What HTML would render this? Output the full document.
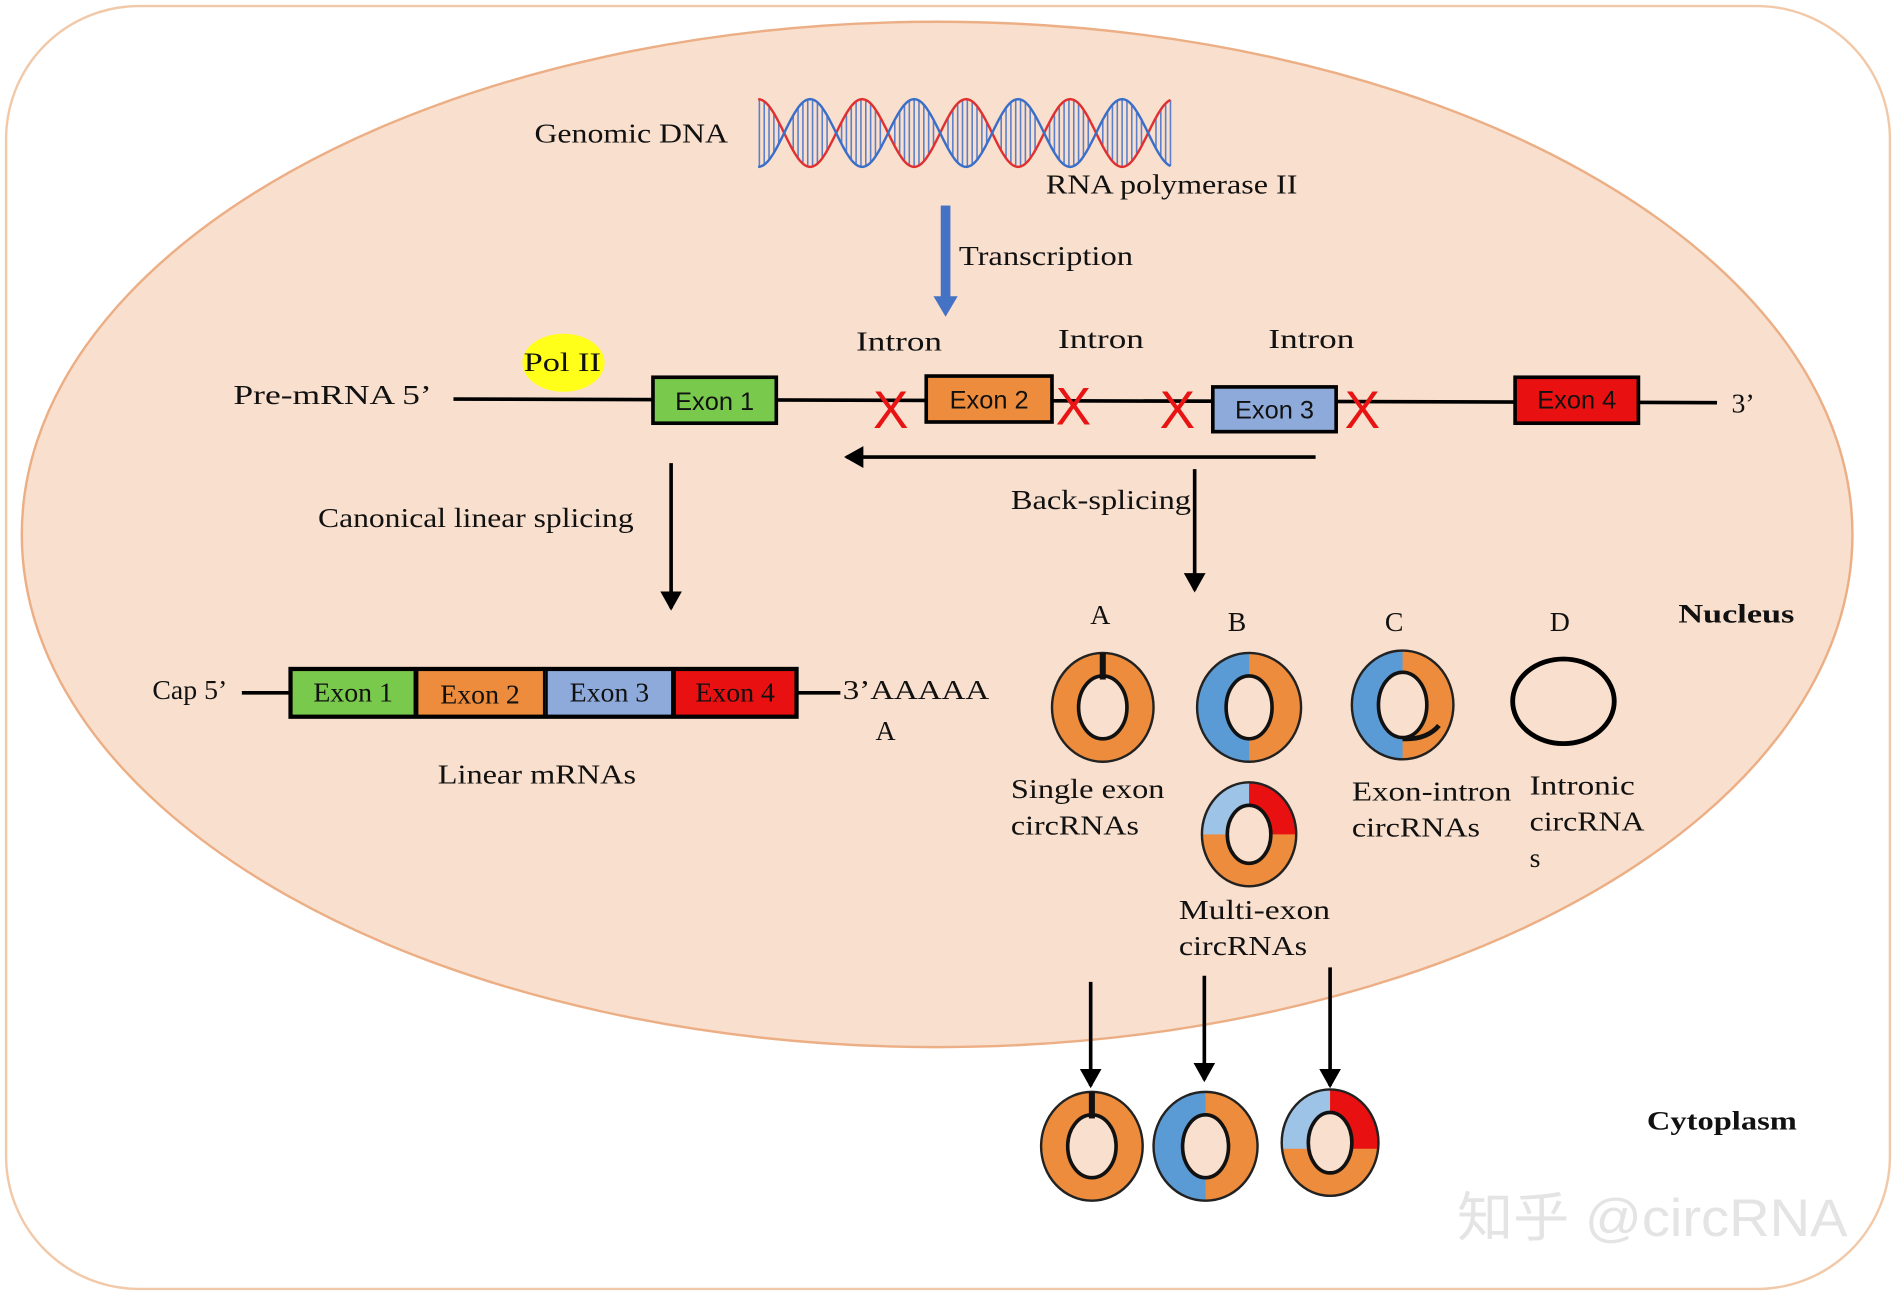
<!DOCTYPE html>
<html><head><meta charset="utf-8"><style>html,body{margin:0;padding:0;background:#fff}svg{display:block}text{font-family:"Liberation Serif",serif;fill:#111}.b{font-family:"Liberation Sans",sans-serif}</style></head>
<body>
<svg id="s" width="1896" height="1295" viewBox="0 0 1568 1071" xmlns="http://www.w3.org/2000/svg">
<defs>
<marker id="ah" markerWidth="16" markerHeight="18" refX="14" refY="9" orient="auto" markerUnits="userSpaceOnUse"><path d="M0,0 L16,9 L0,18 z" fill="#000"/></marker>
</defs>
<rect x="5" y="5" width="1558" height="1061" rx="110" fill="#fff" stroke="#f2c9a8" stroke-width="2"/>
<ellipse cx="775" cy="442" rx="757" ry="424" fill="#f9dfcd" stroke="#ecae84" stroke-width="2"/>
<g id="dna"></g>
<g font-size="23" lengthAdjust="spacingAndGlyphs">
<text x="442" y="118" textLength="160" lengthAdjust="spacingAndGlyphs">Genomic DNA</text>
<text x="865" y="160" textLength="208" lengthAdjust="spacingAndGlyphs">RNA polymerase II</text>
<text x="793" y="219" textLength="144" lengthAdjust="spacingAndGlyphs">Transcription</text>
<text x="708" y="290" textLength="71" lengthAdjust="spacingAndGlyphs">Intron</text>
<text x="875" y="288" textLength="71" lengthAdjust="spacingAndGlyphs">Intron</text>
<text x="1049" y="288" textLength="71" lengthAdjust="spacingAndGlyphs">Intron</text>
<text x="193" y="334" textLength="164" lengthAdjust="spacingAndGlyphs">Pre-mRNA  5’</text>
<text x="1432" y="341">3’</text>
</g>
<rect x="778" y="170" width="8" height="80" fill="#4472c4"/>
<path d="M772,245 L792,245 L782,262 z" fill="#4472c4"/>
<line x1="375" y1="330" x2="1420" y2="333" stroke="#000" stroke-width="3"/>
<ellipse cx="466" cy="300" rx="34" ry="24" fill="#ffff1a"/>
<text x="433" y="307" font-size="22" textLength="64" lengthAdjust="spacingAndGlyphs">Pol II</text>
<rect x="540" y="312" width="102" height="38" fill="#79c94d" stroke="#000" stroke-width="3"/>
<text class="b" x="591" y="339" font-size="21" text-anchor="middle">Exon  1</text>
<rect x="766" y="311" width="104" height="38" fill="#ec8c3c" stroke="#000" stroke-width="3"/>
<text class="b" x="818" y="338" font-size="21" text-anchor="middle">Exon  2</text>
<rect x="1003" y="320" width="102" height="37" fill="#8eaadb" stroke="#000" stroke-width="3"/>
<text class="b" x="1054" y="346" font-size="21" text-anchor="middle">Exon  3</text>
<rect x="1253" y="312" width="102" height="38" fill="#e81010" stroke="#000" stroke-width="3"/>
<text class="b" x="1304" y="338" font-size="21" text-anchor="middle">Exon  4</text>
<g font-size="44">
<text x="722" y="354" style="fill:#e81414;font-family:'Liberation Sans',sans-serif">X</text>
<text x="873" y="351" style="fill:#e81414;font-family:'Liberation Sans',sans-serif">X</text>
<text x="959" y="354" style="fill:#e81414;font-family:'Liberation Sans',sans-serif">X</text>
<text x="1112" y="354" style="fill:#e81414;font-family:'Liberation Sans',sans-serif">X</text>
</g>
<line x1="1088" y1="378" x2="700" y2="378" stroke="#000" stroke-width="3" marker-end="url(#ah)"/>
<line x1="555" y1="383" x2="555" y2="503" stroke="#000" stroke-width="3" marker-end="url(#ah)"/>
<line x1="988" y1="388" x2="988" y2="488" stroke="#000" stroke-width="3" marker-end="url(#ah)"/>
<text x="263" y="436" font-size="23" textLength="261" lengthAdjust="spacingAndGlyphs">Canonical linear splicing</text>
<text x="836" y="421" font-size="23" textLength="149" lengthAdjust="spacingAndGlyphs">Back-splicing</text>
<text x="126" y="578" font-size="23">Cap  5’</text>
<line x1="200" y1="573" x2="240" y2="573" stroke="#000" stroke-width="3"/>
<line x1="658" y1="573" x2="695" y2="573" stroke="#000" stroke-width="3"/>
<rect x="240" y="553" width="419" height="40" fill="none" stroke="#000" stroke-width="3"/>
<rect x="241" y="554" width="102" height="38" fill="#79c94d" stroke="#000" stroke-width="2"/>
<rect x="345" y="554" width="105" height="38" fill="#ec8c3c" stroke="#000" stroke-width="2"/>
<rect x="452" y="554" width="104" height="38" fill="#8eaadb" stroke="#000" stroke-width="2"/>
<rect x="558" y="554" width="100" height="38" fill="#e81010" stroke="#000" stroke-width="2"/>
<g font-size="23" text-anchor="middle"><text x="292" y="580">Exon 1</text><text x="397" y="582">Exon 2</text><text x="504" y="580">Exon 3</text><text x="608" y="580">Exon 4</text></g>
<text x="697" y="578" font-size="23" textLength="121" lengthAdjust="spacingAndGlyphs">3’AAAAA</text>
<text x="724" y="612" font-size="23">A</text>
<text x="362" y="648" font-size="23" textLength="164" lengthAdjust="spacingAndGlyphs">Linear mRNAs</text>
<g font-size="23" text-anchor="middle"><text x="910" y="516">A</text><text x="1023" y="522">B</text><text x="1153" y="522">C</text><text x="1290" y="522">D</text></g>
<text x="1388" y="515" font-size="22" font-weight="bold" textLength="96" lengthAdjust="spacingAndGlyphs">Nucleus</text>
<text x="1362" y="934" font-size="22" font-weight="bold" textLength="124" lengthAdjust="spacingAndGlyphs">Cytoplasm</text>
<g id="rings"></g>
<ellipse cx="1293" cy="580" rx="42" ry="35" fill="none" stroke="#000" stroke-width="4"/>
<g font-size="23"><text x="836" y="660" textLength="127" lengthAdjust="spacingAndGlyphs">Single exon</text><text x="836" y="690" textLength="106" lengthAdjust="spacingAndGlyphs">circRNAs</text>
<text x="1118" y="662" textLength="132" lengthAdjust="spacingAndGlyphs">Exon-intron</text><text x="1118" y="692" textLength="106" lengthAdjust="spacingAndGlyphs">circRNAs</text>
<text x="1265" y="657" textLength="87" lengthAdjust="spacingAndGlyphs">Intronic</text><text x="1265" y="687" textLength="95" lengthAdjust="spacingAndGlyphs">circRNA</text><text x="1265" y="717">s</text>
<text x="975" y="760" textLength="125" lengthAdjust="spacingAndGlyphs">Multi-exon</text><text x="975" y="790" textLength="106" lengthAdjust="spacingAndGlyphs">circRNAs</text></g>
<line x1="902" y1="812" x2="902" y2="898" stroke="#000" stroke-width="3" marker-end="url(#ah)"/>
<line x1="996" y1="807" x2="996" y2="893" stroke="#000" stroke-width="3" marker-end="url(#ah)"/>
<line x1="1100" y1="800" x2="1100" y2="898" stroke="#000" stroke-width="3" marker-end="url(#ah)"/>
<text x="1205" y="1022" font-size="44" textLength="323" lengthAdjust="spacingAndGlyphs" style="fill:#e4e4e4;font-family:'Liberation Sans','Noto Sans CJK SC',sans-serif">知乎 @circRNA</text>
</svg>
<script>
var NS="http://www.w3.org/2000/svg",BG="#f9dfcd",OR="#ec8c3c",BL="#5b9bd5",LB="#9dc3e6",RD="#e81010";
function el(t,a,p){var e=document.createElementNS(NS,t);for(var k in a)e.setAttribute(k,a[k]);(p||document.getElementById('rings')).appendChild(e);return e;}
var cid=0;
function ring(cx,cy,rx,ry,irx,iry,parts){
 el('ellipse',{cx:cx,cy:cy,rx:rx,ry:ry,fill:OR});
 parts.forEach(function(p){cid++;var c=el('clipPath',{id:'c'+cid},document.querySelector('defs'));
  el('rect',{x:p[0],y:p[1],width:p[2],height:p[3]},c);
  el('ellipse',{cx:cx,cy:cy,rx:rx,ry:ry,fill:p[4],'clip-path':'url(#c'+cid+')'});});
 el('ellipse',{cx:cx,cy:cy,rx:rx,ry:ry,fill:'none',stroke:'#222','stroke-width':2});
 el('ellipse',{cx:cx,cy:cy,rx:irx,ry:iry,fill:BG,stroke:'#111','stroke-width':3});
}
ring(912,585,42,45,20,26,[]);el('line',{x1:912,y1:540,x2:912,y2:562,stroke:'#111','stroke-width':5});
ring(1033,585,43,45,19,26,[[980,530,53,110,BL]]);
ring(1160,583,42,45,20,27,[[1110,530,50,110,BL]]);
el('path',{d:'M1160,611 Q1180,612 1190,600',fill:'none',stroke:'#111','stroke-width':4});
ring(1033,690,39,43,18,24,[[990,640,43,50,LB],[1033,640,50,50,RD]]);
ring(903,948,42,45,20,26,[]);el('line',{x1:903,y1:903,x2:903,y2:925,stroke:'#111','stroke-width':5});
ring(997,948,43,45,19,26,[[950,900,47,100,BL]]);
ring(1100,945,40,44,18,25,[[1055,895,45,55,LB],[1100,895,50,55,RD]]);
var g=document.getElementById('dna'),r="",b="",lines="";
for(var x=627;x<=968;x+=1){var t=(x-627)/86*2*Math.PI-Math.PI/2;var y1=110+28*Math.sin(t),y2=110-28*Math.sin(t);r+=(x==627?"M":"L")+x+","+y1.toFixed(1);b+=(x==627?"M":"L")+x+","+y2.toFixed(1);
 if(x%4==0&&Math.abs(Math.sin(t))>0.3)lines+="M"+x+","+y1.toFixed(1)+"L"+x+","+y2.toFixed(1);}
el('path',{d:lines,stroke:'#5b7fc9','stroke-width':1.3},g);
el('path',{d:r,fill:'none',stroke:'#e03030','stroke-width':2},g);
el('path',{d:b,fill:'none',stroke:'#3a6fc9','stroke-width':2},g);
</script>
</body></html>
